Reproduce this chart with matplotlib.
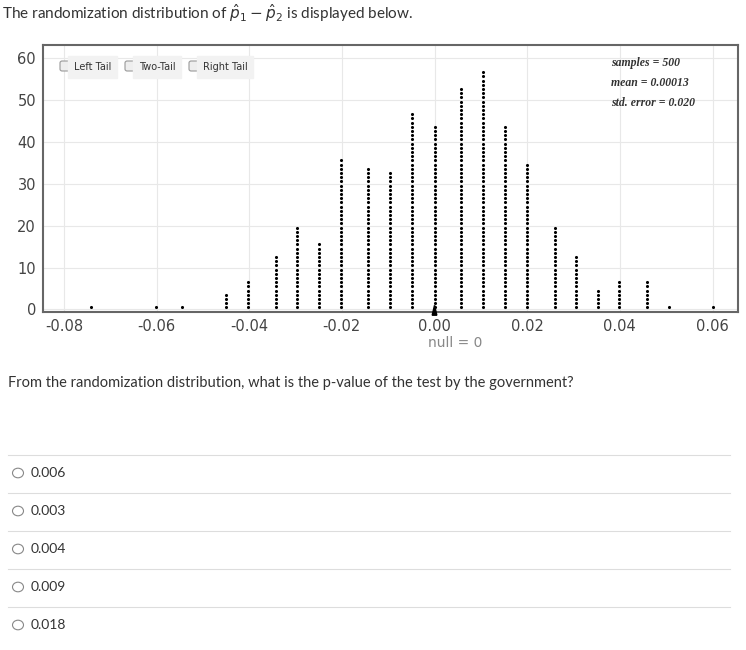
import matplotlib
matplotlib.use("Agg")
import matplotlib.pyplot as plt
from matplotlib.patches import FancyBboxPatch, Polygon

# dot plot data: bin centre -> number of samples
centers = [-0.0742, -0.0602, -0.0544, -0.0449, -0.0402, -0.0343, -0.0296, -0.0249,
           -0.0201, -0.0143, -0.0096, -0.0048, 0.0000, 0.0058, 0.0104, 0.0152,
           0.0199, 0.0259, 0.0305, 0.0353, 0.0399, 0.0459, 0.0505, 0.0600]
counts = [1, 1, 1, 4, 7, 13, 20, 16, 36, 34, 33, 47, 44, 53, 57, 44,
          35, 20, 13, 5, 7, 7, 1, 1]
x_ticks = [-0.08, -0.06, -0.04, -0.02, 0.00, 0.02, 0.04, 0.06]
y_ticks = [0, 10, 20, 30, 40, 50, 60]
stats = ["samples = 500", "mean = 0.00013", "std. error = 0.020"]
choices = ["0.006", "0.003", "0.004", "0.009", "0.018"]
question = "From the randomization distribution, what is the p-value of the test by the government?"

W, H = 746, 650
fig = plt.figure(figsize=(W / 100, H / 100), dpi=100)
fx = lambda px: px / W
fy = lambda py: 1 - py / H

fig.text(fx(2), fy(2), r"The randomization distribution of $\hat{p}_1 - \hat{p}_2$ is displayed below.",
         fontsize=11, family="Lato", color="#333333", va="top")

ax = fig.add_axes([fx(43), fy(312), fx(738) - fx(43), fy(45) - fy(312)])
xs, ys = [], []
for c, n in zip(centers, counts):
    for k in range(n):
        xs.append(c)
        ys.append(k + 0.5)
ax.scatter(xs, ys, s=5, color="black", zorder=3, linewidths=0)
ax.set_xlim(-0.0845, 0.0655)
ax.set_ylim(-0.6, 63)
ax.set_xticks(x_ticks)
ax.set_yticks(y_ticks)
ax.grid(color="#e8e8e8", linewidth=0.8)
ax.tick_params(length=0, labelsize=10.5, labelcolor="#444444", pad=5)
ax.set_xticklabels([f"{t:.2f}" for t in x_ticks])
for s in ax.spines.values():
    s.set_color("#666666")
    s.set_linewidth(1.5)
ax.text(0.0045, -0.09, "null = 0", transform=ax.get_xaxis_transform(),
        ha="center", va="top", fontsize=10, color="#888888")
ax.add_patch(Polygon([[-0.0005, -0.012], [0.0005, -0.012], [0, 0.025]],
                     transform=ax.get_xaxis_transform(), closed=True,
                     color="black", clip_on=False, zorder=4))

# checkboxes
for bx, lab in [(60, "Left Tail"), (125, "Two-Tail"), (189, "Right Tail")]:
    fig.patches.append(FancyBboxPatch((fx(bx), fy(71)), fx(10), 10 / H,
                                      boxstyle="round,pad=0,rounding_size=0.003",
                                      transform=fig.transFigure,
                                      fc="#eeeeee", ec="#999999", lw=0.8))
    fig.text(fx(bx + 14), fy(67), lab, fontsize=7, color="#333333",
             va="center", backgroundcolor="#f2f2f2")

for i, s in enumerate(stats):
    fig.text(fx(611), fy(63 + 20 * i), s, fontsize=8.5, family="Liberation Serif",
             style="italic", weight="bold", color="#333333", va="center")

fig.text(fx(8), fy(383), question, fontsize=10.5, family="Lato",
         color="#333333", va="center")

for i, ch in enumerate(choices):
    ly = 455 + 38 * i
    fig.add_artist(plt.Line2D([fx(8), fx(730)], [fy(ly), fy(ly)],
                              color="#dddddd", lw=0.8))
    yc = ly + 18
    fig.add_artist(plt.Circle((fx(18), fy(yc)), 5.5 / W, transform=fig.transFigure,
                              fill=False, ec="#888888", lw=0.8))
    fig.text(fx(31), fy(yc), ch, fontsize=10, family="Lato", color="#333333",
             va="center")

fig.savefig("out.png", dpi=100)
